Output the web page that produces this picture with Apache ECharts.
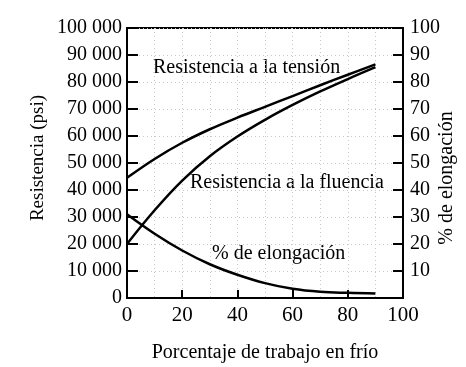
<!DOCTYPE html>
<html><head><meta charset="utf-8">
<script src="https://cdn.jsdelivr.net/npm/echarts@6/dist/echarts.min.js"></script>
<style>html,body{margin:0;padding:0;background:#fff}#c{width:466px;height:367px}</style>
</head><body><div id="c"></div>
<script>
const coldWork = [0, 10, 20, 30, 40, 50, 60, 70, 80, 90];
const tensile = [44500, 51500, 57500, 62500, 66800, 70800, 74800, 78800, 82700, 86500];
const yieldStr = [20000, 32500, 43500, 52500, 59800, 66000, 71500, 76500, 81100, 85500];
const elongation = [31, 23.8, 17.6, 12.5, 8.6, 5.5, 3.4, 2.3, 1.9, 1.7];
const leftTicks = [0, 100000, 10000];
const rightTicks = [0, 100, 10];
const xTicks = [0, 100, 20];

const F = 'Liberation Serif';
const pair = a => coldWork.map((x, i) => [x, a[i]]);
const chart = echarts.init(document.getElementById('c'), null, {renderer: 'canvas'});
const dotted = {show: true, lineStyle: {color: '#c8c8c8', type: [1, 3], width: 1}};
chart.setOption({
  animation: false,
  grid: {left: 127, right: 63, top: 28, bottom: 69, show: true, borderColor: '#000', borderWidth: 2,
         containLabel: false, outerBoundsMode: 'none'},
  xAxis: {
    type: 'value', min: xTicks[0], max: xTicks[1], interval: xTicks[2],
    name: 'Porcentaje de trabajo en frío', nameLocation: 'middle', nameGap: 45, nameMoveOverlap: false,
    nameTextStyle: {fontFamily: F, fontSize: 20, color: '#000'},
    axisLine: {show: true, lineStyle: {color: '#000', width: 2}},
    axisTick: {show: true, inside: true, length: 8, lineStyle: {color: '#000', width: 2}},
    axisLabel: {fontFamily: F, fontSize: 21, color: '#000', margin: 7},
    splitLine: dotted,
    minorTick: {show: false, splitNumber: 2},
    minorSplitLine: dotted
  },
  yAxis: [{
    type: 'value', min: leftTicks[0], max: leftTicks[1], interval: leftTicks[2],
    name: 'Resistencia (psi)', nameLocation: 'middle', nameGap: 79, nameMoveOverlap: false,
    nameTextStyle: {fontFamily: F, fontSize: 19, color: '#000', padding: [0, 0, 0, 10]},
    axisLine: {show: true, lineStyle: {color: '#000', width: 2}},
    axisTick: {show: true, inside: true, length: 11, lineStyle: {color: '#000', width: 2}},
    axisLabel: {fontFamily: F, fontSize: 20, color: '#000', margin: 5,
      formatter: v => v === 0 ? '0' : String(v).replace(/(\d)(?=(\d{3})+$)/g, '$1 ')},
    splitLine: dotted
  }, {
    type: 'value', position: 'right', min: rightTicks[0], max: rightTicks[1], interval: rightTicks[2],
    name: '% de elongación', nameLocation: 'middle', nameGap: 34, nameRotate: 90, nameMoveOverlap: false,
    nameTextStyle: {fontFamily: F, fontSize: 20, color: '#000', padding: [0, 30, 0, 0]},
    axisLine: {show: true, lineStyle: {color: '#000', width: 2}},
    axisTick: {show: true, inside: true, length: 10, lineStyle: {color: '#000', width: 2}},
    axisLabel: {fontFamily: F, fontSize: 20, color: '#000', margin: 7,
      formatter: v => v === 0 ? '' : String(v)},
    splitLine: {show: false}
  }],
  series: [
    {type: 'line', data: pair(tensile), smooth: 0.4, symbol: 'none', lineStyle: {color: '#000', width: 2.5}},
    {type: 'line', data: pair(yieldStr), smooth: 0.4, symbol: 'none', lineStyle: {color: '#000', width: 2.5}},
    {type: 'line', yAxisIndex: 1, data: pair(elongation), smooth: 0.4, symbol: 'none', lineStyle: {color: '#000', width: 2.5}}
  ],
  graphic: [
    {type: 'text', left: 153, top: 58, style: {text: 'Resistencia a la tensión', font: '20px "Liberation Serif"', fill: '#000'}},
    {type: 'text', left: 190, top: 173, style: {text: 'Resistencia a la fluencia', font: '20px "Liberation Serif"', fill: '#000'}},
    {type: 'text', left: 212, top: 244, style: {text: '% de elongación', font: '20px "Liberation Serif"', fill: '#000'}}
  ]
});
</script></body></html>
